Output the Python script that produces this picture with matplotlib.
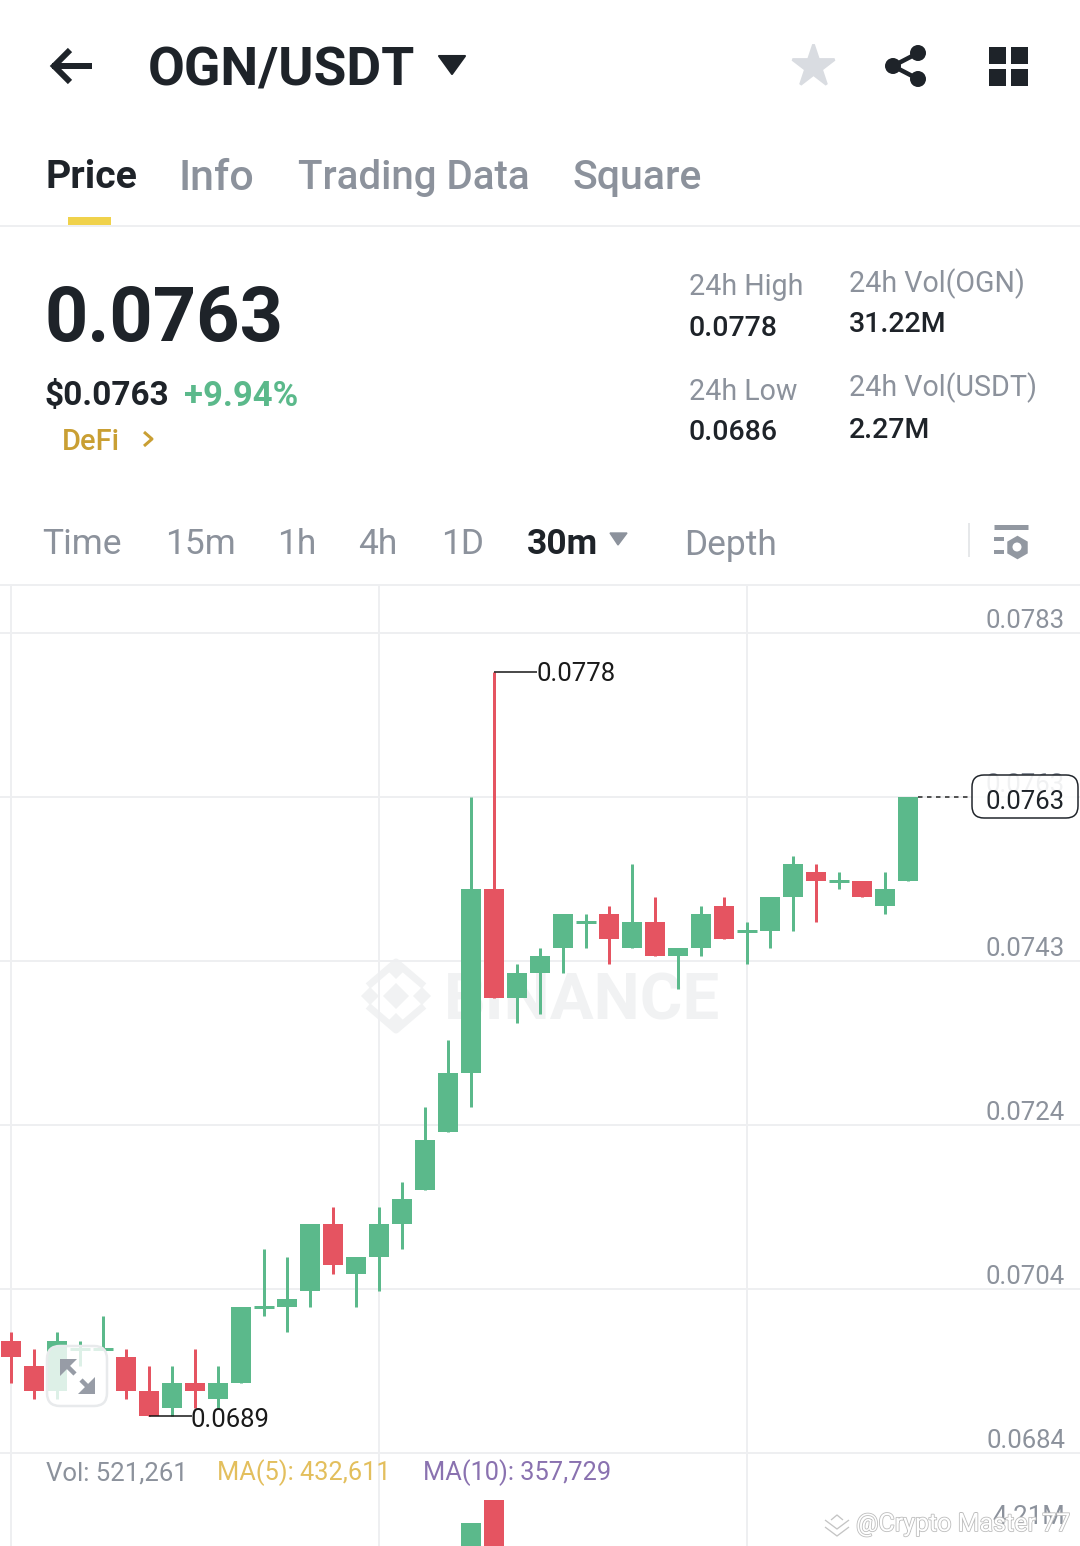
import matplotlib
matplotlib.use("Agg")
import matplotlib.pyplot as plt
import matplotlib.patheffects as pe
from matplotlib.patches import FancyBboxPatch, Polygon, Rectangle, Circle
from matplotlib.transforms import Affine2D

plt.rcParams['font.family'] = ['Roboto', 'DejaVu Sans']

# ---- data ----
opens  = [.0698,.0695,.0692,.0697,.0697,.0696,.0692,.0690,.0693,.0691,
          .0693,.0702,.0702,.0704,.0712,.0706,.0708,.0712,.0716,.0723,
          .0730,.0752,.0739,.0742,.0745,.0748,.0749,.0745,.0748,.0744,
          .0745,.0750,.0747,.0747,.0751,.0754,.0753,.0753,.0750,.0753]
closes = [.0696,.0692,.0698,.0697,.0697,.0692,.0689,.0693,.0692,.0693,
          .0702,.0702,.0703,.0712,.0707,.0708,.0712,.0715,.0722,.0730,
          .0752,.0739,.0742,.0744,.0749,.0748,.0746,.0748,.0744,.0745,
          .0749,.0746,.0747,.0751,.0755,.0753,.0753,.0751,.0752,.0763]
highs  = [.0699,.0697,.0699,.0698,.0701,.0697,.0695,.0695,.0697,.0695,
          .0702,.0709,.0708,.0712,.0714,.0708,.0714,.0717,.0726,.0734,
          .0763,.0778,.0743,.0745,.0749,.0749,.0750,.0755,.0751,.0745,
          .0750,.0751,.0748,.0751,.0756,.0755,.0754,.0753,.0754,.0763]
lows   = [.0693,.0691,.0691,.0695,.0697,.0691,.0689,.0689,.0690,.0690,
          .0693,.0701,.0699,.0702,.0706,.0702,.0704,.0709,.0716,.0723,
          .0726,.0739,.0736,.0737,.0742,.0745,.0743,.0745,.0744,.0740,
          .0744,.0746,.0743,.0745,.0747,.0748,.0752,.0751,.0749,.0753]
price_ticks  = [.07826,.07630,.07434,.07238,.07042,.06846]
price_labels = ['0.0783','0.0763','0.0743','0.0724','0.0704','0.0684']
vol_index  = [20, 21]
vol_values = [3.4e6, 4.21e6]
vol_tick, vol_tick_label = 4.21e6, '4.21M'
grid_index = [0, 16, 32]
high_mark, low_mark, last_price = .0778, .0689, .0763

tabs = ['Price', 'Info', 'Trading Data', 'Square']
intervals = ['Time', '15m', '1h', '4h', '1D', '30m', 'Depth']

# ---- colours ----
GREEN, RED = '#5BB98B', '#E55461'
DARK, GREY, GRID = '#1E2329', '#8C929C', '#EEEFF1'

W, H = 1080, 1546
px = 0.72
fig = plt.figure(figsize=(W/100, H/100), dpi=100, facecolor='white')

def pane(top, bottom, z):
    a = fig.add_axes([0, (H-bottom)/H, 1, (bottom-top)/H], zorder=z)
    a.patch.set_alpha(0)
    for s in a.spines.values():
        s.set_visible(False)
    a.set_xlim(-11/23, (W-11)/23)
    a.set_xticks(grid_index)
    a.set_xticklabels([])
    a.tick_params(axis='x', length=0)
    a.grid(True, axis='x', color=GRID, lw=2*px)
    a.set_axisbelow(True)
    return a

bg = fig.add_axes([0, 0, 1, 1], zorder=0)
bg.set_xlim(0, W); bg.set_ylim(H, 0); bg.axis('off')
ui = fig.add_axes([0, 0, 1, 1], zorder=5)
ui.set_xlim(0, W); ui.set_ylim(H, 0); ui.axis('off')

# ---- price pane ----
ax = pane(585, 1453, 2)
SCALE = 83650
ax.set_ylim(last_price-(1453-797)/SCALE, last_price+(797-585)/SCALE)
ax.yaxis.tick_right()
ax.set_yticks(price_ticks)
ax.set_yticklabels(price_labels)
ax.tick_params(axis='y', length=0, pad=-15*px, labelsize=18.5, labelcolor=GREY)
for lb in ax.get_yticklabels():
    lb.set_ha('right'); lb.set_va('bottom')
ax.grid(True, axis='y', color=GRID, lw=2*px)
ax.spines['bottom'].set_visible(True); ax.spines['bottom'].set_color(GRID); ax.spines['bottom'].set_linewidth(2*px)

for i, (o, c, h, l) in enumerate(zip(opens, closes, highs, lows)):
    col = RED if c < o else GREEN
    ax.vlines(i, l, h, color=col, lw=3*px, zorder=3)
    if o == c:
        ax.hlines(o, i-10/23, i+10/23, color=col, lw=3*px, zorder=3)
    else:
        ax.bar(i, abs(c-o), bottom=min(o, c), width=20/23, color=col, lw=0, zorder=3)

# ---- volume pane ----
vx = pane(1453, 1546, 2)
vx.set_ylim(2.596e6, 5.86e6)
vx.yaxis.tick_right()
vx.set_yticks([vol_tick])
vx.set_yticklabels([vol_tick_label])
vx.tick_params(axis='y', length=0, pad=-15*px, labelsize=18.5, labelcolor=GREY)
for lb in vx.get_yticklabels():
    lb.set_ha('right'); lb.set_va('top')
    lb.set_transform(lb.get_transform() + Affine2D().translate(0, -5))
vx.bar(vol_index, vol_values, width=20/23, color=[GREEN, RED], lw=0, zorder=3)

# ---- helpers ----
def T(x, y, s, size, color=DARK, weight='normal', ha='left', a=ui, z=6, **kw):
    return a.text(x, y+2, s, fontsize=size, color=color, fontweight=weight,
                  ha=ha, va='center', zorder=z, **kw)

def L(xs, ys, color=DARK, lw=3, a=ui, z=6, **kw):
    kw.setdefault('solid_capstyle', 'butt')
    a.plot(xs, ys, color=color, lw=lw*px, zorder=z, **kw)

# ---- header ----
L([52, 92], [66, 66], lw=6)
L([70, 54, 70], [50, 66, 82], lw=6, solid_joinstyle='miter')
T(148, 69, 'OGN/USDT', 38.5, weight='bold')
ui.add_patch(Polygon([(439, 56), (465, 56), (452, 74)], closed=True, fc=DARK, ec=DARK, lw=1.5, joinstyle='round'))
ui.plot([813], [66], marker='*', ms=32, color='#D9DCE1', mec='#D9DCE1', mew=2, zorder=6)
L([893, 918], [66, 53], lw=4.5); L([893, 918], [66, 79], lw=4.5)
for cx, cy in [(893, 66), (918, 53), (918, 79)]:
    ui.add_patch(Circle((cx, cy), 8, fc=DARK, ec='none', zorder=7))
for x0 in (989, 1011):
    for y0 in (47, 69):
        ui.add_patch(Rectangle((x0, y0), 17, 17, fc=DARK, ec='none'))

# ---- tabs ----
for name, x, col, wt, fs in zip(tabs, [45, 179, 298, 572], [DARK, GREY, GREY, GREY],
                                ['bold', 'medium', 'medium', 'medium'], [28.3, 31, 29, 29.5]):
    T(x, 176, name, fs, color=col, weight=wt)
ui.add_patch(Rectangle((68, 217), 43, 8, fc='#F0D24B', ec='none'))
L([0, W], [226, 226], color=GRID, lw=2)

# ---- price summary ----
T(45, 319, '0.0763', 54.5, weight='bold')
T(44, 394, '$0.0763', 24, weight='bold')
T(184, 394, '+9.94%', 25, color=GREEN, weight='bold')
T(62, 440, 'DeFi', 21, color='#C99F33', weight='medium')
L([144, 152, 144], [432, 439, 446], color='#C99F33', lw=3)
T(689, 285, '24h High', 20.6, color=GREY)
T(689, 326, '0.0778', 20.5, weight='medium')
T(689, 390, '24h Low', 20.6, color=GREY)
T(689, 431, '0.0686', 20.5, weight='medium')
T(849, 282, '24h Vol(OGN)', 20.6, color=GREY)
T(849, 323, '31.22M', 20.5, weight='medium')
T(849, 386, '24h Vol(USDT)', 20.6, color=GREY)
T(849, 428, '2.27M', 20.5, weight='medium')

# ---- interval bar ----
for name, x in zip(intervals, [42, 165, 277, 358, 441, 527, 684]):
    sel = name == '30m'
    T(x, 543, name, 25.5, color=DARK if sel else GREY, weight='bold' if sel else 'normal')
ui.add_patch(Polygon([(610, 533), (627, 533), (618, 545)], closed=True, fc=GREY, ec=GREY, lw=1))
L([969, 969], [523, 557], color='#E6E8EA', lw=2)
L([994, 1028], [526.5, 526.5], color='#9298A1', lw=5)
L([994, 1004], [539, 539], color='#9298A1', lw=4)
L([994, 1004], [552, 552], color='#9298A1', lw=4)
ui.plot([1017], [547], marker='h', ms=17, color='#9298A1', mew=0, zorder=6)
ui.add_patch(Circle((1017, 547), 4.5, fc='white', ec='none', zorder=7))
L([0, W], [585, 585], color=GRID, lw=2)

# ---- watermark behind candles ----
for cx, cy, r in [(396, 970, 9), (396, 1022, 9), (370, 996, 9), (422, 996, 9), (396, 996, 13)]:
    bg.add_patch(Polygon([(cx-r, cy), (cx, cy-r), (cx+r, cy), (cx, cy+r)], closed=True, fc='#F1F2F3', ec='none'))
L([368, 396, 424], [986, 962, 986], color='#F1F2F3', lw=7, a=bg, z=1)
L([368, 396, 424], [1006, 1030, 1006], color='#F1F2F3', lw=7, a=bg, z=1)
T(444, 1000, 'BINANCE', 47, color='#F1F2F3', weight='bold', a=bg, z=1)

# ---- chart annotations ----
L([494, 537], [672, 672], color='#111111', lw=1.5, z=4)
T(536, 672, '0.0778', 18.5, color='#1A1A1A')
L([149, 192], [1416, 1416], color='#111111', lw=1.5, z=4)
T(191, 1418, '0.0689', 18.5, color='#1A1A1A')
L([918, 972], [797, 797], color='#222222', lw=1.5, linestyle=(0, (3, 3)))
ui.add_patch(FancyBboxPatch((972, 775), 106, 43, boxstyle='round,pad=0,rounding_size=12',
                            fc=(1, 1, 1, .88), ec=DARK, lw=1.5*px, zorder=6))
T(1025, 800, '0.0763', 18.5, ha='center', z=7)

# ---- expand button ----
ui.add_patch(FancyBboxPatch((47, 1346), 60, 60, boxstyle='round,pad=0,rounding_size=13',
                            fc=(1, 1, 1, .8), ec='#E8EAEC', lw=2.5*px, zorder=6))
A = '#979CA6'
ui.add_patch(Polygon([(60, 1359), (77, 1359), (60, 1376)], closed=True, fc=A, ec='none', zorder=7))
ui.add_patch(Polygon([(95, 1394), (78, 1394), (95, 1377)], closed=True, fc=A, ec='none', zorder=7))
L([66, 75], [1365, 1374], color=A, lw=4.5, z=7)
L([81, 90], [1380, 1389], color=A, lw=4.5, z=7)

# ---- legend row ----
T(46, 1471, 'Vol: 521,261', 18.5, color=GREY)
T(217, 1471, 'MA(5): 432,611', 18.3, color='#E3BF5D')
T(423, 1471, 'MA(10): 357,729', 18.3, color='#8A72B0')

# ---- repost watermark ----
wm = T(856, 1522, '@Crypto Master 77', 18, color='white', z=8)
wm.set_path_effects([pe.Stroke(linewidth=1.2, foreground='#BDBDBD'), pe.Normal()])
for dy in (0, 7):
    L([825, 837, 849], [1520+dy, 1529+dy, 1520+dy], color='#C4C4C4', lw=1.3, z=8)
L([831, 837, 843], [1520, 1515, 1520], color='#C4C4C4', lw=1.3, z=8)

fig.savefig('out.png', dpi=100, facecolor='white')
